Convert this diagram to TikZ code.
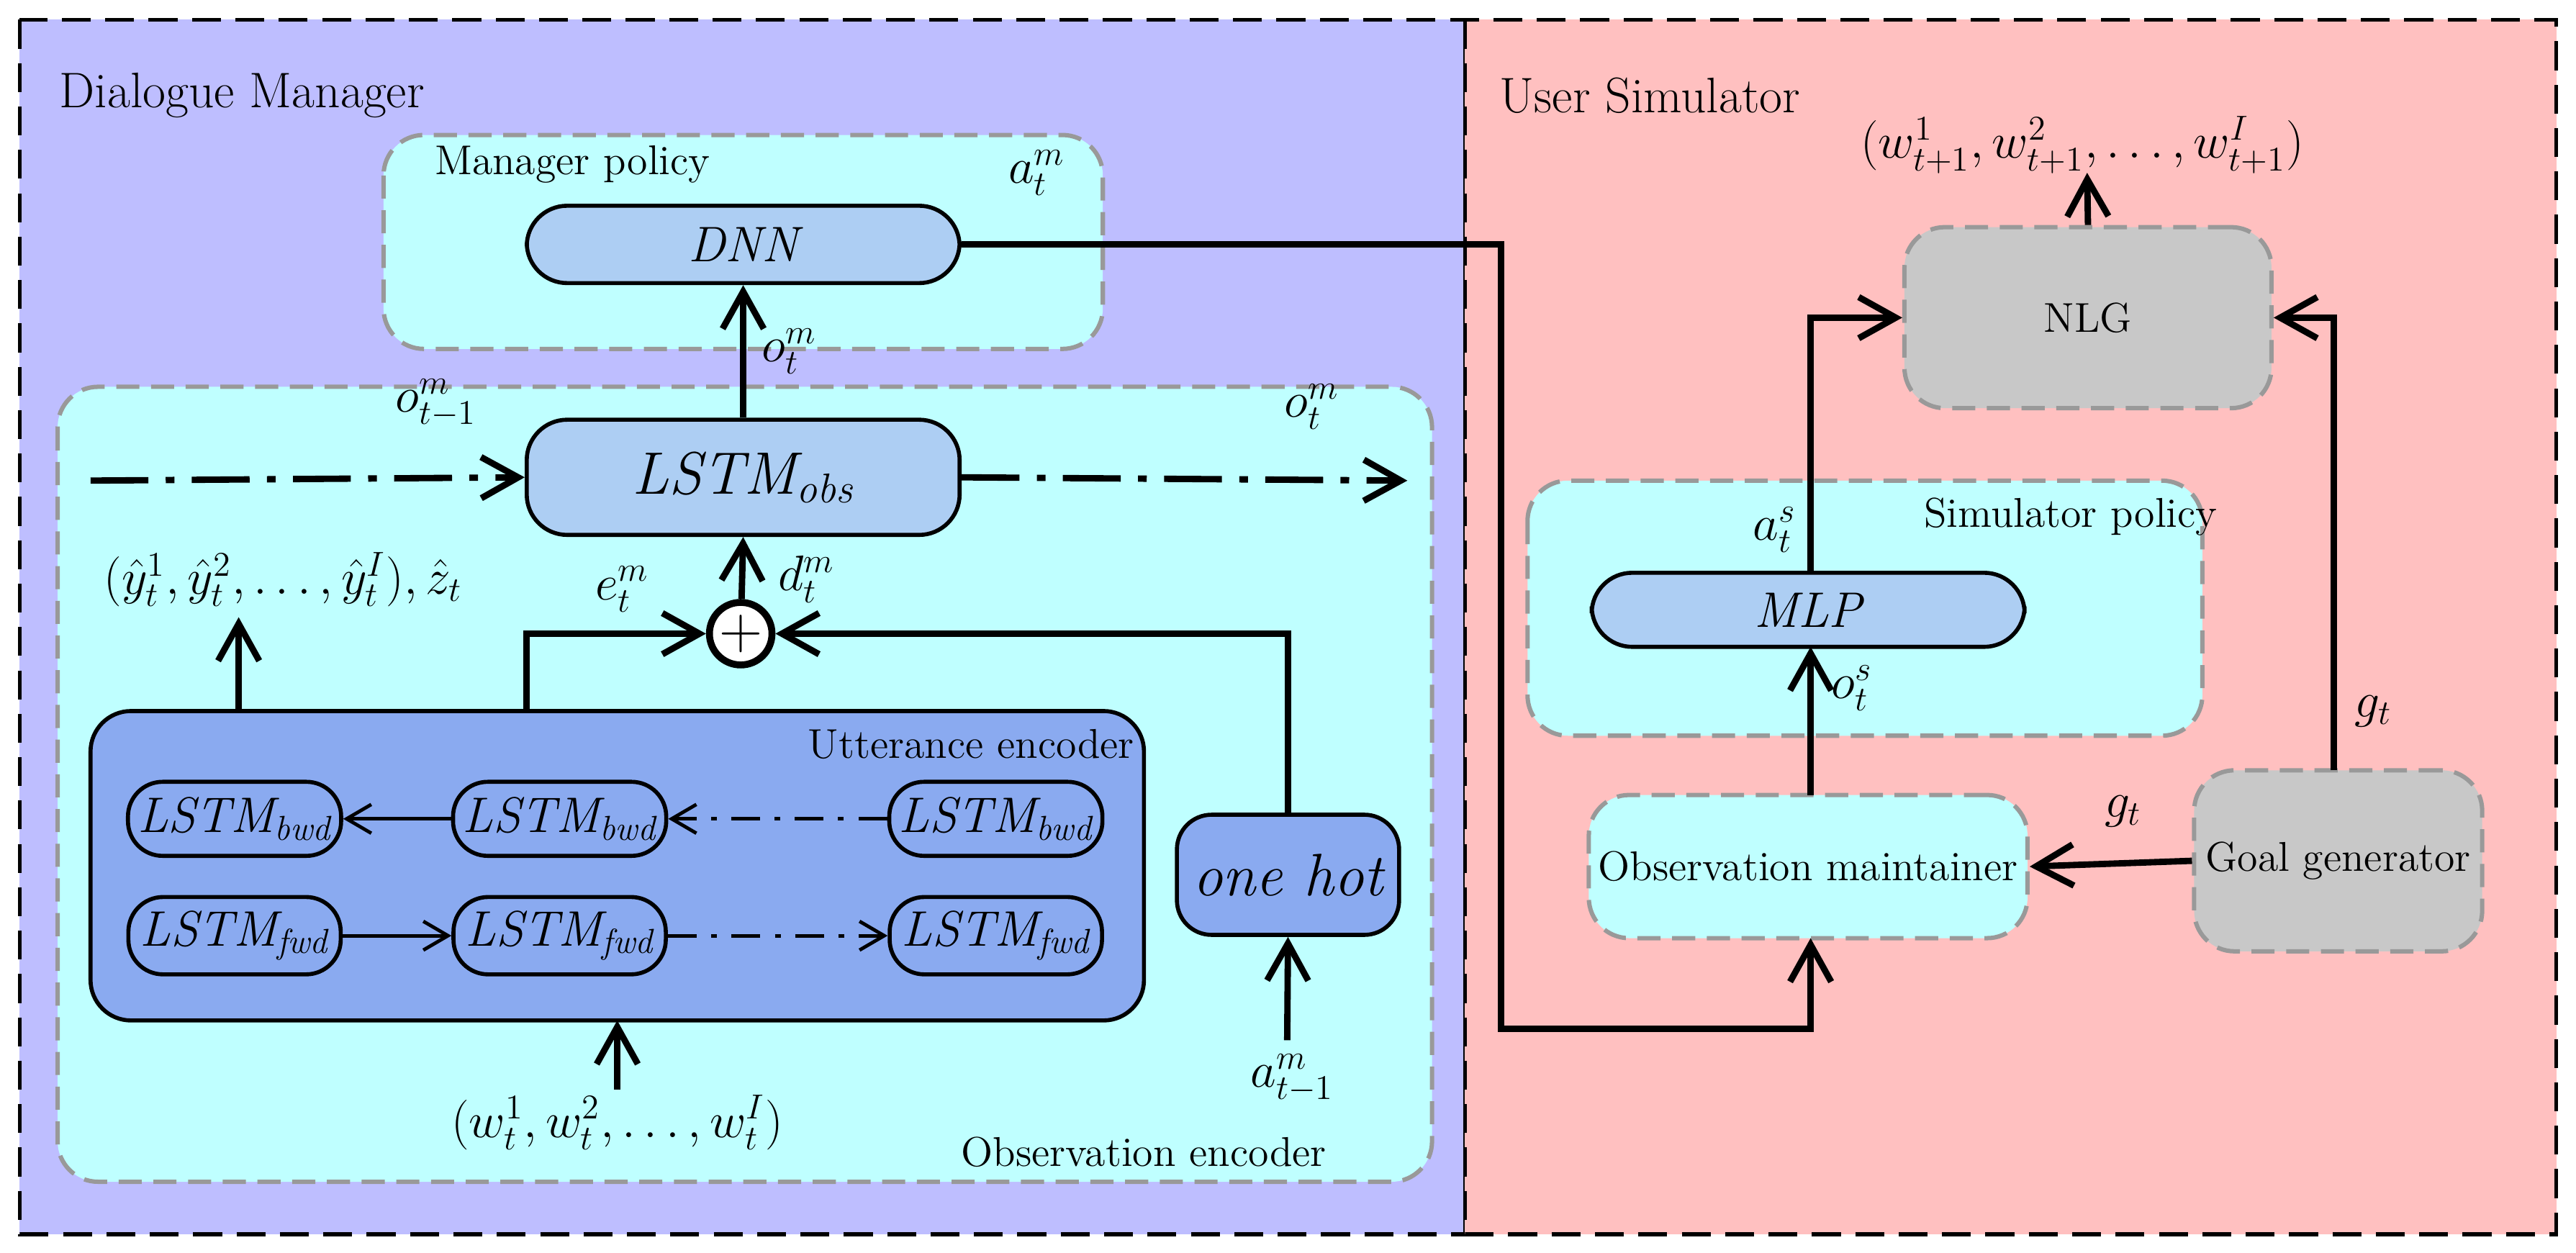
\documentclass[tikz,border=0pt]{standalone}
\usetikzlibrary{arrows.meta}
\definecolor{cyanc}{RGB}{191,255,255}
\definecolor{boxc}{RGB}{173,206,243}
\definecolor{utc}{RGB}{138,170,240}
\definecolor{lav}{RGB}{190,190,255}
\definecolor{pinkc}{RGB}{255,192,192}
\definecolor{grc}{RGB}{200,200,200}
\begin{document}
\begin{tikzpicture}[x=0.02cm,y=-0.02cm,
 arr/.style={line width=2.2pt,-{Straight Barb[length=4.5mm,width=5mm,line width=2.2pt]}},
 thin arr/.style={line width=1.2pt,-{Straight Barb[length=3mm,width=3.5mm]}},
 cont/.style={draw=gray!80,dash pattern=on 8pt off 4pt,line width=1.5pt,rounded corners=14pt},
 cyanbox/.style={cont,fill=cyanc},
 graybox/.style={cont,fill=grc},
 lstm/.style={draw=black,line width=1.4pt,rounded corners=14pt,fill=boxc,font=\itshape\huge},
 small/.style={draw=black,line width=1.4pt,rounded corners=12pt,fill=utc,font=\itshape\LARGE},
 lab/.style={font=\Large},
 m/.style={font=\LARGE}]
\useasboundingbox (0,0) rectangle (1565,761);
\fill[white] (0,0) rectangle (1565,761);
\draw[dash pattern=on 10pt off 5pt,line width=1.4pt,fill=lav] (12,12) rectangle (890,750);
\draw[dash pattern=on 10pt off 5pt,line width=1.4pt,fill=pinkc] (890,12) rectangle (1553,750);
\node[anchor=west,font=\LARGE] at (30,58) {Dialogue Manager};
\node[anchor=west,font=\LARGE] at (905,58) {User Simulator};
% manager policy
\draw[cyanbox] (233,82) rectangle (670,212);
\node[lab,anchor=west] at (258,100) {Manager policy};
\node[m] at (630,105) {$a_t^m$};
\node[lstm,minimum width=263*0.02cm,minimum height=47*0.02cm,font=\itshape\LARGE] (dnn) at (451.5,148.5) {DNN};
% observation encoder
\draw[cyanbox] (35,235) rectangle (870,718);
\node[lab] at (695,700) {Observation encoder};
\node[lstm,minimum width=263*0.02cm,minimum height=70*0.02cm] (obs) at (451.5,290) {LSTM\textsubscript{\Large obs}};
\draw[arr] (obs.north) -- (dnn.south) node[midway,right,m,xshift=2pt] {$o_t^m$};
\coordinate (l0) at (55,292); \coordinate (r0) at (855,292);
\draw[arr,dash pattern=on 20pt off 6pt on 3pt off 6pt] (l0) -- (obs.west);
\draw[arr,dash pattern=on 20pt off 6pt on 3pt off 6pt] (obs.east) -- (r0);
\node[m] at (265,245) {$o_{t-1}^m$};
\node[m] at (797,247) {$o_t^m$};
\node[draw,circle,line width=2.4pt,fill=white,minimum size=38*0.02cm,inner sep=0pt,font=\huge\bfseries] (plus) at (450,385) {$+$};
\draw[arr] (plus) -- (obs.south);
\node[m] at (378,358) {$e_t^m$};
\node[m] at (490,352) {$d_t^m$};
% utterance encoder
\draw[draw=black,line width=1.4pt,rounded corners=14pt,fill=utc] (55,432) rectangle (695,620);
\node[lab] at (590,452) {Utterance encoder};
\foreach \n/\x in {a/142.5,b/340,c/605}{
 \node[small,minimum width=129*0.02cm,minimum height=45*0.02cm] (b\n) at (\x,497.5) {LSTM\textsubscript{bwd}};
 \node[small,minimum width=129*0.02cm,minimum height=47*0.02cm] (f\n) at (\x,568.5) {LSTM\textsubscript{fwd}};}
\draw[thin arr] (bb) -- (ba);
\draw[thin arr,dash pattern=on 10pt off 5pt on 2pt off 5pt] (bc) -- (bb);
\draw[thin arr] (fa) -- (fb);
\draw[thin arr,dash pattern=on 10pt off 5pt on 2pt off 5pt] (fb) -- (fc);
\coordinate (ut) at (320,432); \coordinate (ut2) at (145,432);
\draw[arr] (ut) |- (plus);
\coordinate (yh) at (145,375);
\draw[arr] (ut2) -- (yh);
\node[m] at (172,352) {$(\hat y_t^1,\hat y_t^2,\ldots,\hat y_t^I),\hat z_t$};
\coordinate (win) at (375,662);
\draw[arr] (win) -- (375,620);
\node[m] at (375,682) {$(w_t^1,w_t^2,\ldots,w_t^I)$};
\node[small,minimum width=135*0.02cm,minimum height=73*0.02cm,font=\itshape\huge] (oh) at (782.5,531.5) {one hot};
\draw[arr] (oh.north) |- (plus);
\coordinate (ain) at (782,632);
\draw[arr] (ain) -- (oh.south);
\node[m] at (785,655) {$a_{t-1}^m$};
% user simulator
\node[graybox,minimum width=223*0.02cm,minimum height=110*0.02cm,font=\Large] (nlg) at (1268.5,193) {NLG};
\coordinate (wo) at (1268,105);
\draw[arr] (nlg.north) -- (wo);
\node[m] at (1265,88) {$(w_{t+1}^1,w_{t+1}^2,\ldots,w_{t+1}^I)$};
\draw[cyanbox] (928,292) rectangle (1338,447);
\node[lab] at (1258,314) {Simulator policy};
\node[lstm,minimum width=263*0.02cm,minimum height=45*0.02cm,font=\itshape\LARGE] (mlp) at (1098.5,370.5) {MLP};
\draw[arr] (1100,348) |- (nlg.west);
\node[m] at (1078,322) {$a_t^s$};
\node[cyanbox,minimum width=263*0.02cm,minimum height=87*0.02cm,font=\Large] (om) at (1098.5,526.5) {Observation maintainer};
\draw[arr] (1100,483) -- (1100,393);
\node[m] at (1125,418) {$o_t^s$};
\node[graybox,minimum width=175*0.02cm,minimum height=110*0.02cm,font=\Large] (gg) at (1420.5,523) {Goal generator};
\draw[arr] (gg.west) -- (om.east);
\node[m] at (1290,493) {$g_t$};
\draw[arr] (1418,468) |- (nlg.east);
\node[m] at (1442,432) {$g_t$};
\draw[arr] (dnn.east) -| (912,625) -| (1100,570);
\end{tikzpicture}
\end{document}
